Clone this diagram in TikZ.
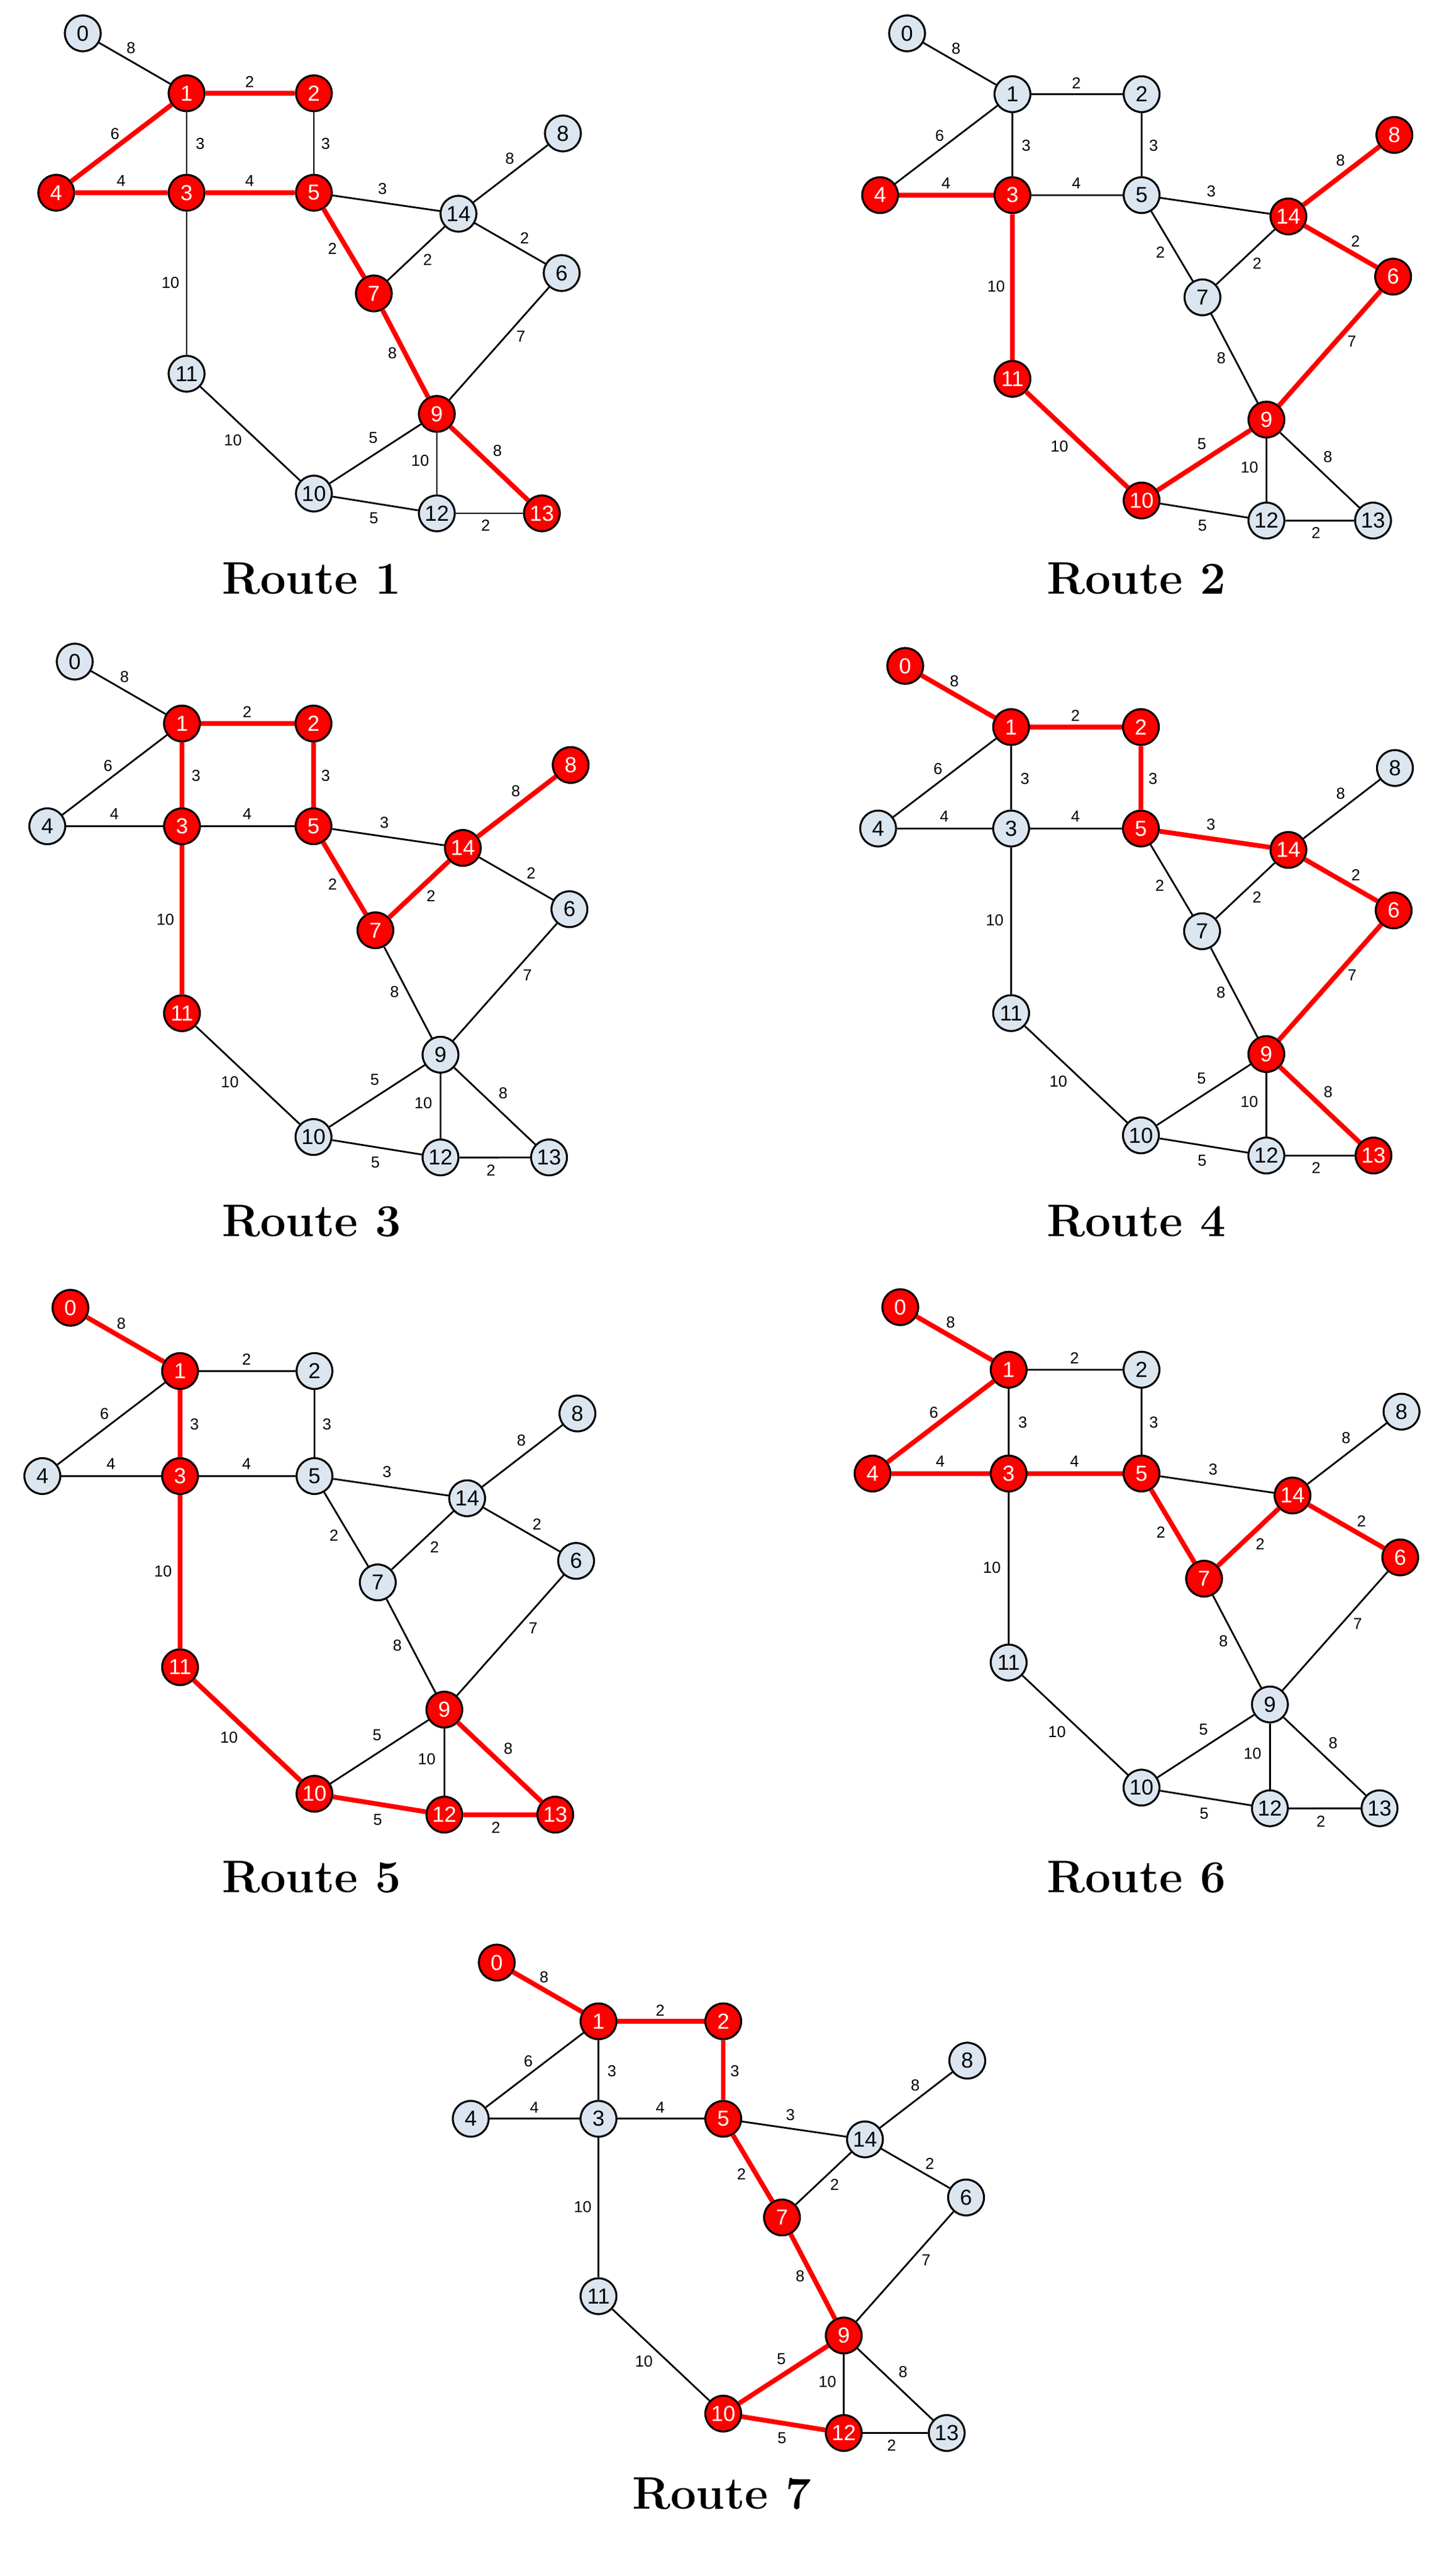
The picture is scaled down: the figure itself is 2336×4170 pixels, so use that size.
\documentclass[tikz,border=0pt]{standalone}
\usepackage{fontspec}
\setsansfont{Liberation Sans}
\definecolor{ngray}{RGB}{220,230,240}
\definecolor{rred}{RGB}{255,0,0}
\tikzset{
  gnode/.style={circle,draw=black,line width=0.9pt,fill=ngray,minimum size=0.58cm,inner sep=0pt,font=\sffamily\fontsize{10}{11}\selectfont,text=black},
  rnode/.style={circle,draw=black,line width=0.9pt,fill=rred,minimum size=0.58cm,inner sep=0pt,font=\sffamily\fontsize{10}{11}\selectfont,text=white},
  bedge/.style={draw=black,line width=0.8pt},
  redge/.style={draw=rred,line width=2.2pt},
  elab/.style={font=\sffamily\fontsize{7.3}{8}\selectfont,inner sep=0pt},
  ttl/.style={font=\bfseries\fontsize{21}{24}\selectfont,inner sep=0pt}
}
\def\nodelist{0/0/0,1/168/97,2/374/97,4/-43/258,3/168/258,5/374/258,14/608/292,8/777/162,6/775/388,7/471/421,11/168/551,9/573/616,10/374/745,12/573/777,13/743/777}
\def\edgelist{0/1/8/78/24,1/2/2/270/79,1/4/6/52/163,1/3/3/190/179,2/5/3/393/179,4/3/4/62/239,3/5/4/270/239,5/14/3/485/252,14/8/8/691/203,14/6/2/715/332,5/7/2/404/349,7/14/2/558/367,3/11/10/142/404,7/9/8/501/518,6/9/7/709/491,11/10/10/243/659,9/10/5/470/655,9/12/10/546/692,9/13/8/671/676,10/12/5/471/785,12/13/2/652/797}
\newcommand\drawpanel[6]{%
  \foreach \n in {#5}{\expandafter\gdef\csname rn@#1@\n\endcsname{}}%
  \foreach \e in {#6}{\expandafter\gdef\csname re@#1@\e\endcsname{}}%
  \begin{scope}[shift={(#2,#3)},scale=#4]
    \foreach \n/\x/\y in \nodelist {%
      \ifcsname rn@#1@\n\endcsname
        \node[rnode] (#1n\n) at (\x,\y) {\n};
      \else
        \node[gnode] (#1n\n) at (\x,\y) {\n};
      \fi}
    \foreach \a/\b/\w/\lx/\ly in \edgelist {%
      \ifcsname re@#1@\a-\b\endcsname
        \draw[redge] (#1n\a) -- (#1n\b);
      \else
        \draw[bedge] (#1n\a) -- (#1n\b);
      \fi
      \node[elab] (#1l\a-\b) at (\lx,\ly) {\w};}
  \end{scope}}
\begin{document}
\begin{tikzpicture}[x=0.01cm,y=-0.01cm]
\useasboundingbox (0,0) rectangle (2336,4170);
\drawpanel{A}{134}{54}{1}{1,2,4,3,5,7,9,13}{1-2,1-4,4-3,3-5,5-7,7-9,9-13}
\drawpanel{B}{1468}{54}{1.015}{4,3,11,10,9,6,14,8}{4-3,3-11,11-10,9-10,6-9,14-6,14-8}
\drawpanel{C}{121}{1071}{1.033}{1,2,3,5,11,7,14,8}{1-2,1-3,2-5,3-11,5-7,7-14,14-8}
\drawpanel{D}{1465}{1078}{1.02}{0,1,2,5,14,6,9,13}{0-1,1-2,2-5,5-14,14-6,6-9,9-13}
\drawpanel{E}{114}{2117}{1.056}{0,1,3,11,10,12,13,9}{0-1,1-3,3-11,11-10,10-12,12-13,9-13}
\drawpanel{F}{1457}{2116}{1.044}{0,1,4,3,5,7,14,6}{0-1,1-4,4-3,3-5,5-7,7-14,14-6}
\drawpanel{G}{804}{3177}{0.98}{0,1,2,5,7,9,10,12}{0-1,1-2,2-5,5-7,7-9,9-10,10-12}
\node[ttl] (t1) at (504,937) {Route 1};
\node[ttl] (t2) at (1839,937) {Route 2};
\node[ttl] (t3) at (504,1977) {Route 3};
\node[ttl] (t4) at (1839,1977) {Route 4};
\node[ttl] (t5) at (504,3039) {Route 5};
\node[ttl] (t6) at (1839,3039) {Route 6};
\node[ttl] (t7) at (1168,4037) {Route 7};
\end{tikzpicture}
\end{document}
